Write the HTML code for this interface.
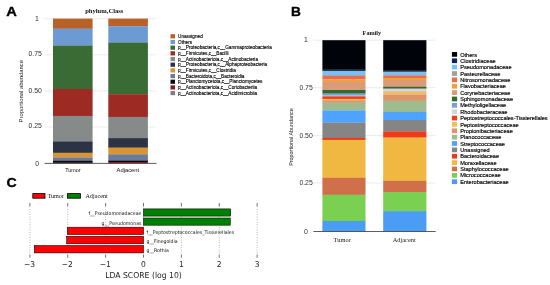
<!DOCTYPE html>
<html><head><meta charset="utf-8"><title>Figure</title>
<style>html,body{margin:0;padding:0;background:#fff;}svg{display:block;}</style>
</head><body>
<svg width="550" height="285" viewBox="0 0 550 285">
<rect x="0" y="0" width="550" height="285" fill="#ffffff"/>
<line x1="44.5" x2="156.5" y1="18.7" y2="18.7" stroke="#e2e2e2" stroke-width="0.7"/>
<line x1="44.5" x2="156.5" y1="54.8" y2="54.8" stroke="#e2e2e2" stroke-width="0.7"/>
<line x1="44.5" x2="156.5" y1="91.0" y2="91.0" stroke="#e2e2e2" stroke-width="0.7"/>
<line x1="44.5" x2="156.5" y1="127.0" y2="127.0" stroke="#e2e2e2" stroke-width="0.7"/>
<rect x="53" y="18.60" width="39.6" height="10.25" fill="#b8622a"/>
<rect x="53" y="28.70" width="39.6" height="17.05" fill="#6b9bd2"/>
<rect x="53" y="45.60" width="39.6" height="43.45" fill="#3a6b35"/>
<rect x="53" y="88.90" width="39.6" height="27.15" fill="#9e2a24"/>
<rect x="53" y="115.90" width="39.6" height="25.65" fill="#868b8a"/>
<rect x="53" y="141.40" width="39.6" height="11.55" fill="#2b3345"/>
<rect x="53" y="152.80" width="39.6" height="4.85" fill="#d99530"/>
<rect x="53" y="157.50" width="39.6" height="3.45" fill="#6b7a9b"/>
<rect x="53" y="160.80" width="39.6" height="2.05" fill="#0a0a0f"/>
<rect x="53" y="162.70" width="39.6" height="0.65" fill="#8b1a1a"/>
<rect x="108.3" y="18.60" width="39.6" height="7.75" fill="#b8622a"/>
<rect x="108.3" y="26.20" width="39.6" height="16.55" fill="#6b9bd2"/>
<rect x="108.3" y="42.60" width="39.6" height="51.75" fill="#3a6b35"/>
<rect x="108.3" y="94.20" width="39.6" height="22.85" fill="#9e2a24"/>
<rect x="108.3" y="116.90" width="39.6" height="21.35" fill="#868b8a"/>
<rect x="108.3" y="138.10" width="39.6" height="9.75" fill="#2b3345"/>
<rect x="108.3" y="147.70" width="39.6" height="6.75" fill="#d99530"/>
<rect x="108.3" y="154.30" width="39.6" height="6.35" fill="#6b7a9b"/>
<rect x="108.3" y="160.50" width="39.6" height="1.65" fill="#0a0a0f"/>
<rect x="108.3" y="162.00" width="39.6" height="1.35" fill="#8b1a1a"/>
<line x1="44.5" x2="156.5" y1="163.4" y2="163.4" stroke="#333" stroke-width="0.8"/>
<text x="38.9" y="21.45" text-anchor="end" font-family='"Liberation Sans", Arial, sans-serif' font-size="6.9" fill="#333">1</text>
<text x="41.9" y="56.45" text-anchor="end" font-family='"Liberation Sans", Arial, sans-serif' font-size="6.9" fill="#333">0.75</text>
<text x="41.9" y="92.60" text-anchor="end" font-family='"Liberation Sans", Arial, sans-serif' font-size="6.9" fill="#333">0.50</text>
<text x="41.9" y="128.35" text-anchor="end" font-family='"Liberation Sans", Arial, sans-serif' font-size="6.9" fill="#333">0.25</text>
<text x="39.0" y="165.95" text-anchor="end" font-family='"Liberation Sans", Arial, sans-serif' font-size="6.9" fill="#333">0</text>
<text x="65.2" y="171.8" textLength="15.5" lengthAdjust="spacingAndGlyphs" font-family='"Liberation Sans", Arial, sans-serif' font-size="6.0" fill="#111">Tumor</text>
<text x="116.5" y="171.8" textLength="22.7" lengthAdjust="spacingAndGlyphs" font-family='"Liberation Sans", Arial, sans-serif' font-size="6.0" fill="#111">Adjacent</text>
<text transform="translate(22.6,91.2) rotate(-90)" text-anchor="middle" font-family='"Liberation Sans", Arial, sans-serif' font-size="5.9" fill="#222">Proportional abundance</text>
<text x="104.3" y="12.6" text-anchor="middle" font-family='"Liberation Serif", "Times New Roman", serif' font-weight="bold" font-size="6.6" fill="#111">phylum,Class</text>
<text x="6.2" y="15.8" font-family='"Liberation Sans", Arial, sans-serif' font-weight="bold" font-size="13.4" fill="#000" stroke="#000" stroke-width="0.35" textLength="10.6" lengthAdjust="spacingAndGlyphs">A</text>
<rect x="170.5" y="34.20" width="4.5" height="4.2" fill="#b8622a"/>
<text x="178" y="38.00" font-family='"Liberation Sans", Arial, sans-serif' font-size="4.7" fill="#000" stroke="#000" stroke-width="0.13">Unassigned</text>
<rect x="170.5" y="39.88" width="4.5" height="4.2" fill="#6b9bd2"/>
<text x="178" y="43.68" font-family='"Liberation Sans", Arial, sans-serif' font-size="4.7" fill="#000" stroke="#000" stroke-width="0.13">Others</text>
<rect x="170.5" y="45.56" width="4.5" height="4.2" fill="#3a6b35"/>
<text x="178" y="49.36" font-family='"Liberation Sans", Arial, sans-serif' font-size="4.7" fill="#000" stroke="#000" stroke-width="0.13">p__Proteobacteria,c__Gammaproteobacteria</text>
<rect x="170.5" y="51.24" width="4.5" height="4.2" fill="#9e2a24"/>
<text x="178" y="55.04" font-family='"Liberation Sans", Arial, sans-serif' font-size="4.7" fill="#000" stroke="#000" stroke-width="0.13">p__Firmicutes,c__Bacilli</text>
<rect x="170.5" y="56.92" width="4.5" height="4.2" fill="#868b8a"/>
<text x="178" y="60.72" font-family='"Liberation Sans", Arial, sans-serif' font-size="4.7" fill="#000" stroke="#000" stroke-width="0.13">p__Actinobacteriota,c__Actinobacteria</text>
<rect x="170.5" y="62.60" width="4.5" height="4.2" fill="#2b3345"/>
<text x="178" y="66.40" font-family='"Liberation Sans", Arial, sans-serif' font-size="4.7" fill="#000" stroke="#000" stroke-width="0.13">p__Proteobacteria,c__Alphaproteobacteria</text>
<rect x="170.5" y="68.28" width="4.5" height="4.2" fill="#d99530"/>
<text x="178" y="72.08" font-family='"Liberation Sans", Arial, sans-serif' font-size="4.7" fill="#000" stroke="#000" stroke-width="0.13">p__Firmicutes,c__Clostridia</text>
<rect x="170.5" y="73.96" width="4.5" height="4.2" fill="#6b7a9b"/>
<text x="178" y="77.76" font-family='"Liberation Sans", Arial, sans-serif' font-size="4.7" fill="#000" stroke="#000" stroke-width="0.13">p__Bacteroidota,c__Bacteroidia</text>
<rect x="170.5" y="79.64" width="4.5" height="4.2" fill="#0a0a0f"/>
<text x="178" y="83.44" font-family='"Liberation Sans", Arial, sans-serif' font-size="4.7" fill="#000" stroke="#000" stroke-width="0.13">p__Planctomycetota,c__Planctomycetes</text>
<rect x="170.5" y="85.32" width="4.5" height="4.2" fill="#8b1a1a"/>
<text x="178" y="89.12" font-family='"Liberation Sans", Arial, sans-serif' font-size="4.7" fill="#000" stroke="#000" stroke-width="0.13">p__Actinobacteriota,c__Coriobacteriia</text>
<rect x="170.5" y="91.00" width="4.5" height="4.2" fill="#808080"/>
<text x="178" y="94.80" font-family='"Liberation Sans", Arial, sans-serif' font-size="4.7" fill="#000" stroke="#000" stroke-width="0.13">p__Actinobacteriota,c__Acidimicrobiia</text>
<line x1="313" x2="435.7" y1="40.2" y2="40.2" stroke="#e2e2e2" stroke-width="0.7"/>
<line x1="313" x2="435.7" y1="87.7" y2="87.7" stroke="#e2e2e2" stroke-width="0.7"/>
<line x1="313" x2="435.7" y1="135.4" y2="135.4" stroke="#e2e2e2" stroke-width="0.7"/>
<line x1="313" x2="435.7" y1="183.0" y2="183.0" stroke="#e2e2e2" stroke-width="0.7"/>
<rect x="322.4" y="40.20" width="43.1" height="29.55" fill="#01030a"/>
<rect x="322.4" y="69.60" width="43.1" height="1.35" fill="#030a1c"/>
<rect x="322.4" y="70.80" width="43.1" height="4.55" fill="#73c2fb"/>
<rect x="322.4" y="75.20" width="43.1" height="0.85" fill="#a0a0a0"/>
<rect x="322.4" y="75.90" width="43.1" height="3.65" fill="#ee6a4a"/>
<rect x="322.4" y="79.40" width="43.1" height="2.55" fill="#e8a33d"/>
<rect x="322.4" y="81.80" width="43.1" height="8.35" fill="#db9a78"/>
<rect x="322.4" y="90.00" width="43.1" height="3.75" fill="#2f6b2f"/>
<rect x="322.4" y="93.60" width="43.1" height="2.25" fill="#7b9fd9"/>
<rect x="322.4" y="95.70" width="43.1" height="0.75" fill="#d6d6da"/>
<rect x="322.4" y="96.30" width="43.1" height="2.75" fill="#ee3e1e"/>
<rect x="322.4" y="98.90" width="43.1" height="1.45" fill="#f3bc5c"/>
<rect x="322.4" y="100.20" width="43.1" height="2.65" fill="#dd9468"/>
<rect x="322.4" y="102.70" width="43.1" height="7.85" fill="#9dbb8c"/>
<rect x="322.4" y="110.40" width="43.1" height="12.35" fill="#4da3ff"/>
<rect x="322.4" y="122.60" width="43.1" height="15.45" fill="#858585"/>
<rect x="322.4" y="137.90" width="43.1" height="2.15" fill="#ee3a1a"/>
<rect x="322.4" y="139.90" width="43.1" height="38.05" fill="#f0b840"/>
<rect x="322.4" y="177.80" width="43.1" height="17.15" fill="#d0704a"/>
<rect x="322.4" y="194.80" width="43.1" height="26.35" fill="#7ad050"/>
<rect x="322.4" y="221.00" width="43.1" height="10.35" fill="#4a9cf5"/>
<rect x="383.2" y="40.20" width="43.2" height="30.55" fill="#01030a"/>
<rect x="383.2" y="70.60" width="43.2" height="1.25" fill="#030a1c"/>
<rect x="383.2" y="71.70" width="43.2" height="3.35" fill="#73c2fb"/>
<rect x="383.2" y="74.90" width="43.2" height="0.75" fill="#a0a0a0"/>
<rect x="383.2" y="75.50" width="43.2" height="2.65" fill="#ee6a4a"/>
<rect x="383.2" y="78.00" width="43.2" height="2.15" fill="#e8a33d"/>
<rect x="383.2" y="80.00" width="43.2" height="6.95" fill="#db9a78"/>
<rect x="383.2" y="86.80" width="43.2" height="2.05" fill="#2f6b2f"/>
<rect x="383.2" y="88.70" width="43.2" height="0.15" fill="#7b9fd9"/>
<rect x="383.2" y="88.70" width="43.2" height="3.25" fill="#d6d6da"/>
<rect x="383.2" y="91.80" width="43.2" height="0.15" fill="#ee3e1e"/>
<rect x="383.2" y="91.80" width="43.2" height="2.85" fill="#f3bc5c"/>
<rect x="383.2" y="94.50" width="43.2" height="6.45" fill="#dd9468"/>
<rect x="383.2" y="100.80" width="43.2" height="11.15" fill="#9dbb8c"/>
<rect x="383.2" y="111.80" width="43.2" height="8.35" fill="#4da3ff"/>
<rect x="383.2" y="120.00" width="43.2" height="11.55" fill="#858585"/>
<rect x="383.2" y="131.40" width="43.2" height="6.35" fill="#ee3a1a"/>
<rect x="383.2" y="137.60" width="43.2" height="43.35" fill="#f0b840"/>
<rect x="383.2" y="180.80" width="43.2" height="11.35" fill="#d0704a"/>
<rect x="383.2" y="192.00" width="43.2" height="19.25" fill="#7ad050"/>
<rect x="383.2" y="211.10" width="43.2" height="20.25" fill="#4a9cf5"/>
<line x1="313.4" x2="435.7" y1="231.5" y2="231.5" stroke="#333" stroke-width="0.8"/>
<text x="307.8" y="42.45" text-anchor="end" font-family='"Liberation Sans", Arial, sans-serif' font-size="6.9" fill="#333">1</text>
<text x="312.8" y="90.45" text-anchor="end" font-family='"Liberation Sans", Arial, sans-serif' font-size="6.9" fill="#333">0.75</text>
<text x="312.8" y="137.65" text-anchor="end" font-family='"Liberation Sans", Arial, sans-serif' font-size="6.9" fill="#333">0.50</text>
<text x="312.8" y="184.85" text-anchor="end" font-family='"Liberation Sans", Arial, sans-serif' font-size="6.9" fill="#333">0.25</text>
<text x="307.8" y="234.25" text-anchor="end" font-family='"Liberation Sans", Arial, sans-serif' font-size="6.9" fill="#333">0</text>
<text x="342.2" y="241.8" text-anchor="middle" font-family='"Liberation Serif", "Times New Roman", serif' font-size="6.4" fill="#222">Tumor</text>
<text x="404.2" y="241.8" text-anchor="middle" font-family='"Liberation Serif", "Times New Roman", serif' font-size="6.4" fill="#222">Adjacent</text>
<text transform="translate(292.9,137) rotate(-90)" text-anchor="middle" font-family='"Liberation Sans", Arial, sans-serif' font-size="5.4" fill="#222">Proportional Abundance</text>
<text x="371.9" y="35.4" text-anchor="middle" font-family='"Liberation Serif", "Times New Roman", serif' font-weight="bold" font-size="6.2" fill="#111">Family</text>
<text x="291.0" y="15.8" font-family='"Liberation Sans", Arial, sans-serif' font-weight="bold" font-size="13.2" fill="#000" stroke="#000" stroke-width="0.35" textLength="9.9" lengthAdjust="spacingAndGlyphs">B</text>
<rect x="451.9" y="52.05" width="5.2" height="4.7" fill="#000"/>
<text x="460.2" y="56.50" font-family='"Liberation Sans", Arial, sans-serif' font-size="5.6" fill="#000" stroke="#000" stroke-width="0.16">Others</text>
<rect x="451.9" y="58.41" width="5.2" height="4.7" fill="#0a2463"/>
<text x="460.2" y="62.87" font-family='"Liberation Sans", Arial, sans-serif' font-size="5.6" fill="#000" stroke="#000" stroke-width="0.16">Clostridiaceae</text>
<rect x="451.9" y="64.78" width="5.2" height="4.7" fill="#73c2fb"/>
<text x="460.2" y="69.23" font-family='"Liberation Sans", Arial, sans-serif' font-size="5.6" fill="#000" stroke="#000" stroke-width="0.16">Pseudomonadaceae</text>
<rect x="451.9" y="71.15" width="5.2" height="4.7" fill="#a0a0a0"/>
<text x="460.2" y="75.59" font-family='"Liberation Sans", Arial, sans-serif' font-size="5.6" fill="#000" stroke="#000" stroke-width="0.16">Pasteurellaceae</text>
<rect x="451.9" y="77.51" width="5.2" height="4.7" fill="#ee6a4a"/>
<text x="460.2" y="81.96" font-family='"Liberation Sans", Arial, sans-serif' font-size="5.6" fill="#000" stroke="#000" stroke-width="0.16">Nitrosomonadaceae</text>
<rect x="451.9" y="83.88" width="5.2" height="4.7" fill="#e8a33d"/>
<text x="460.2" y="88.32" font-family='"Liberation Sans", Arial, sans-serif' font-size="5.6" fill="#000" stroke="#000" stroke-width="0.16">Flavobacteriaceae</text>
<rect x="451.9" y="90.24" width="5.2" height="4.7" fill="#db9a78"/>
<text x="460.2" y="94.69" font-family='"Liberation Sans", Arial, sans-serif' font-size="5.6" fill="#000" stroke="#000" stroke-width="0.16">Corynebacteriaceae</text>
<rect x="451.9" y="96.61" width="5.2" height="4.7" fill="#2f6b2f"/>
<text x="460.2" y="101.05" font-family='"Liberation Sans", Arial, sans-serif' font-size="5.6" fill="#000" stroke="#000" stroke-width="0.16">Sphingomonadaceae</text>
<rect x="451.9" y="102.97" width="5.2" height="4.7" fill="#7b9fd9"/>
<text x="460.2" y="107.42" font-family='"Liberation Sans", Arial, sans-serif' font-size="5.6" fill="#000" stroke="#000" stroke-width="0.16">Methyloligellaceae</text>
<rect x="451.9" y="109.34" width="5.2" height="4.7" fill="#d6d6da"/>
<text x="460.2" y="113.78" font-family='"Liberation Sans", Arial, sans-serif' font-size="5.6" fill="#000" stroke="#000" stroke-width="0.16">Rhodobacteraceae</text>
<rect x="451.9" y="115.70" width="5.2" height="4.7" fill="#ee3e1e"/>
<text x="460.2" y="120.15" font-family='"Liberation Sans", Arial, sans-serif' font-size="5.6" fill="#000" stroke="#000" stroke-width="0.16">Peptostreptococcales-Tissierellales</text>
<rect x="451.9" y="122.06" width="5.2" height="4.7" fill="#f3bc5c"/>
<text x="460.2" y="126.51" font-family='"Liberation Sans", Arial, sans-serif' font-size="5.6" fill="#000" stroke="#000" stroke-width="0.16">Peptostreptococcaceae</text>
<rect x="451.9" y="128.43" width="5.2" height="4.7" fill="#dd9468"/>
<text x="460.2" y="132.88" font-family='"Liberation Sans", Arial, sans-serif' font-size="5.6" fill="#000" stroke="#000" stroke-width="0.16">Propionibacteriaceae</text>
<rect x="451.9" y="134.80" width="5.2" height="4.7" fill="#9dbb8c"/>
<text x="460.2" y="139.25" font-family='"Liberation Sans", Arial, sans-serif' font-size="5.6" fill="#000" stroke="#000" stroke-width="0.16">Planococcaceae</text>
<rect x="451.9" y="141.16" width="5.2" height="4.7" fill="#4da3ff"/>
<text x="460.2" y="145.61" font-family='"Liberation Sans", Arial, sans-serif' font-size="5.6" fill="#000" stroke="#000" stroke-width="0.16">Streptococcaceae</text>
<rect x="451.9" y="147.53" width="5.2" height="4.7" fill="#858585"/>
<text x="460.2" y="151.97" font-family='"Liberation Sans", Arial, sans-serif' font-size="5.6" fill="#000" stroke="#000" stroke-width="0.16">Unassigned</text>
<rect x="451.9" y="153.89" width="5.2" height="4.7" fill="#ee3a1a"/>
<text x="460.2" y="158.34" font-family='"Liberation Sans", Arial, sans-serif' font-size="5.6" fill="#000" stroke="#000" stroke-width="0.16">Bacteroidaceae</text>
<rect x="451.9" y="160.25" width="5.2" height="4.7" fill="#f0b840"/>
<text x="460.2" y="164.70" font-family='"Liberation Sans", Arial, sans-serif' font-size="5.6" fill="#000" stroke="#000" stroke-width="0.16">Moraxellaceae</text>
<rect x="451.9" y="166.62" width="5.2" height="4.7" fill="#d0704a"/>
<text x="460.2" y="171.07" font-family='"Liberation Sans", Arial, sans-serif' font-size="5.6" fill="#000" stroke="#000" stroke-width="0.16">Staphylococcaceae</text>
<rect x="451.9" y="172.99" width="5.2" height="4.7" fill="#7ad050"/>
<text x="460.2" y="177.44" font-family='"Liberation Sans", Arial, sans-serif' font-size="5.6" fill="#000" stroke="#000" stroke-width="0.16">Micrococcaceae</text>
<rect x="451.9" y="179.35" width="5.2" height="4.7" fill="#4a9cf5"/>
<text x="460.2" y="183.80" font-family='"Liberation Sans", Arial, sans-serif' font-size="5.6" fill="#000" stroke="#000" stroke-width="0.16">Enterobacteriaceae</text>
<text x="6.4" y="187.3" font-family='"Liberation Sans", Arial, sans-serif' font-weight="bold" font-size="12.8" fill="#000" stroke="#000" stroke-width="0.35" textLength="10.2" lengthAdjust="spacingAndGlyphs">C</text>
<rect x="32.8" y="193.6" width="12.2" height="4.6" fill="#ff0000" stroke="#000" stroke-width="0.8"/>
<text x="47.4" y="197.6" font-family='"Liberation Serif", "Times New Roman", serif' font-size="6.2" fill="#111">Tumor</text>
<rect x="67.5" y="193.6" width="12.9" height="4.6" fill="#008000" stroke="#000" stroke-width="0.8"/>
<text x="85.4" y="197.6" font-family='"Liberation Serif", "Times New Roman", serif' font-size="6.2" fill="#111">Adjacent</text>
<line x1="29.89" x2="29.89" y1="206.4" y2="255" stroke="#666" stroke-width="0.6" stroke-dasharray="0.8,1.76"/>
<line x1="29.89" x2="29.89" y1="203" y2="206.2" stroke="#333" stroke-width="0.7"/>
<line x1="29.89" x2="29.89" y1="254.6" y2="257.7" stroke="#333" stroke-width="0.7"/>
<text transform="translate(29.49,266.9) scale(0.93,1)" text-anchor="middle" font-family='"DejaVu Sans", "Liberation Sans", sans-serif' font-size="8.1" fill="#222">−3</text>
<line x1="67.76" x2="67.76" y1="206.4" y2="255" stroke="#666" stroke-width="0.6" stroke-dasharray="0.8,1.76"/>
<line x1="67.76" x2="67.76" y1="203" y2="206.2" stroke="#333" stroke-width="0.7"/>
<line x1="67.76" x2="67.76" y1="254.6" y2="257.7" stroke="#333" stroke-width="0.7"/>
<text transform="translate(67.36,266.9) scale(0.93,1)" text-anchor="middle" font-family='"DejaVu Sans", "Liberation Sans", sans-serif' font-size="8.1" fill="#222">−2</text>
<line x1="105.63" x2="105.63" y1="206.4" y2="255" stroke="#666" stroke-width="0.6" stroke-dasharray="0.8,1.76"/>
<line x1="105.63" x2="105.63" y1="203" y2="206.2" stroke="#333" stroke-width="0.7"/>
<line x1="105.63" x2="105.63" y1="254.6" y2="257.7" stroke="#333" stroke-width="0.7"/>
<text transform="translate(105.23,266.9) scale(0.93,1)" text-anchor="middle" font-family='"DejaVu Sans", "Liberation Sans", sans-serif' font-size="8.1" fill="#222">−1</text>
<line x1="143.50" x2="143.50" y1="206.4" y2="255" stroke="#666" stroke-width="0.6" stroke-dasharray="0.8,1.76"/>
<line x1="143.50" x2="143.50" y1="203" y2="206.2" stroke="#333" stroke-width="0.7"/>
<line x1="143.50" x2="143.50" y1="254.6" y2="257.7" stroke="#333" stroke-width="0.7"/>
<text transform="translate(143.50,266.9) scale(0.93,1)" text-anchor="middle" font-family='"DejaVu Sans", "Liberation Sans", sans-serif' font-size="8.1" fill="#222">0</text>
<line x1="181.37" x2="181.37" y1="206.4" y2="255" stroke="#666" stroke-width="0.6" stroke-dasharray="0.8,1.76"/>
<line x1="181.37" x2="181.37" y1="203" y2="206.2" stroke="#333" stroke-width="0.7"/>
<line x1="181.37" x2="181.37" y1="254.6" y2="257.7" stroke="#333" stroke-width="0.7"/>
<text transform="translate(181.37,266.9) scale(0.93,1)" text-anchor="middle" font-family='"DejaVu Sans", "Liberation Sans", sans-serif' font-size="8.1" fill="#222">1</text>
<line x1="219.24" x2="219.24" y1="206.4" y2="255" stroke="#666" stroke-width="0.6" stroke-dasharray="0.8,1.76"/>
<line x1="219.24" x2="219.24" y1="203" y2="206.2" stroke="#333" stroke-width="0.7"/>
<line x1="219.24" x2="219.24" y1="254.6" y2="257.7" stroke="#333" stroke-width="0.7"/>
<text transform="translate(219.24,266.9) scale(0.93,1)" text-anchor="middle" font-family='"DejaVu Sans", "Liberation Sans", sans-serif' font-size="8.1" fill="#222">2</text>
<line x1="257.11" x2="257.11" y1="206.4" y2="255" stroke="#666" stroke-width="0.6" stroke-dasharray="0.8,1.76"/>
<line x1="257.11" x2="257.11" y1="203" y2="206.2" stroke="#333" stroke-width="0.7"/>
<line x1="257.11" x2="257.11" y1="254.6" y2="257.7" stroke="#333" stroke-width="0.7"/>
<text transform="translate(257.11,266.9) scale(0.93,1)" text-anchor="middle" font-family='"DejaVu Sans", "Liberation Sans", sans-serif' font-size="8.1" fill="#222">3</text>
<rect x="143.50" y="208.9" width="87.20" height="7.20" fill="#008000" stroke="#000" stroke-width="0.55"/>
<rect x="143.50" y="218.0" width="86.80" height="7.20" fill="#008000" stroke="#000" stroke-width="0.55"/>
<rect x="67.30" y="227.2" width="76.20" height="7.40" fill="#ff0000" stroke="#000" stroke-width="0.55"/>
<rect x="66.70" y="236.3" width="76.80" height="7.50" fill="#ff0000" stroke="#000" stroke-width="0.55"/>
<rect x="34.30" y="245.5" width="109.20" height="7.40" fill="#ff0000" stroke="#000" stroke-width="0.55"/>
<text transform="translate(141.4,215.40) scale(0.93,1)" text-anchor="end" font-family='"DejaVu Sans", "Liberation Sans", sans-serif' font-size="5.0" fill="#111">f__Pseudomonadaceae</text>
<text transform="translate(141.4,224.50) scale(0.93,1)" text-anchor="end" font-family='"DejaVu Sans", "Liberation Sans", sans-serif' font-size="5.0" fill="#111">g__Pseudomonas</text>
<text transform="translate(146.5,233.90) scale(0.93,1)" text-anchor="start" font-family='"DejaVu Sans", "Liberation Sans", sans-serif' font-size="5.0" fill="#111">f__Peptostreptococcales_Tissierellales</text>
<text transform="translate(146.5,242.90) scale(0.93,1)" text-anchor="start" font-family='"DejaVu Sans", "Liberation Sans", sans-serif' font-size="5.0" fill="#111">g__Finegoldia</text>
<text transform="translate(146.5,251.90) scale(0.93,1)" text-anchor="start" font-family='"DejaVu Sans", "Liberation Sans", sans-serif' font-size="5.0" fill="#111">g__Rothia</text>
<text transform="translate(143.5,277.9) scale(0.95,1)" text-anchor="middle" font-family='"DejaVu Sans", "Liberation Sans", sans-serif' font-size="8.1" fill="#222">LDA SCORE (log 10)</text>
</svg>
</body></html>
